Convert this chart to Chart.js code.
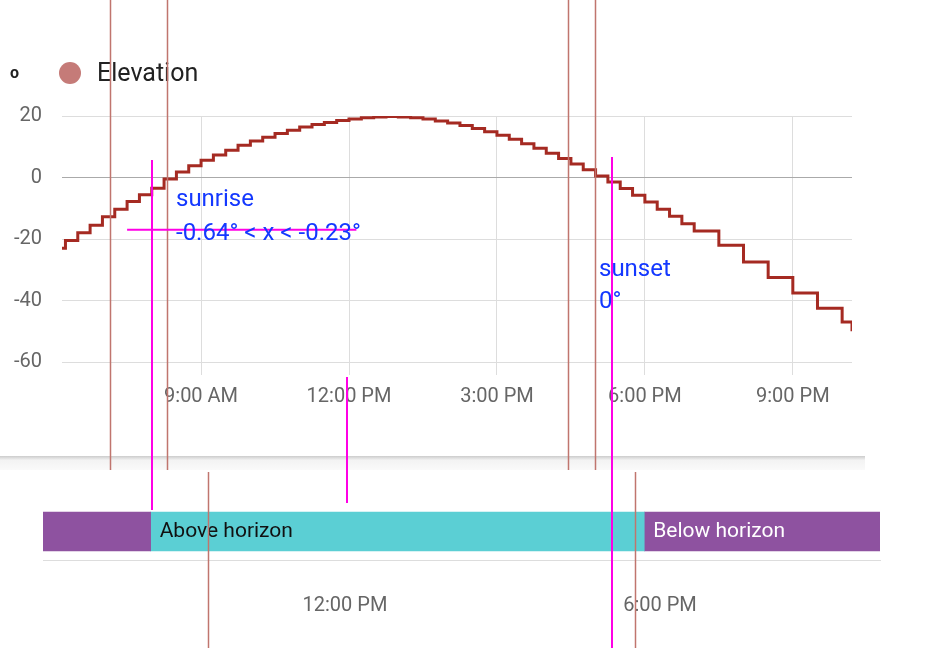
<!DOCTYPE html>
<html><head><meta charset="utf-8">
<script src="https://cdn.jsdelivr.net/npm/chart.js@4/dist/chart.umd.min.js"></script>
<style>
body{margin:0;width:930px;height:648px;background:#fff;overflow:hidden;font-family:Roboto,sans-serif;position:relative}
#top{position:absolute;left:0;top:0}
#bot{position:absolute;left:0;top:470px}
#ov{position:absolute;left:0;top:0;pointer-events:none}
#legend{position:absolute;left:10px;top:58px;font-size:25px;color:#222;display:flex;align-items:center}
#bar{position:absolute;left:0;top:456px;width:865px;height:14px;background:linear-gradient(#ccc,#f3f3f3 30%,#fafafa)}
</style></head><body>
<div id="bar"></div>
<canvas id="top" width="865" height="470"></canvas>
<canvas id="bot" width="930" height="178"></canvas>
<div id="legend"><b style="font-size:16px;margin-right:40px">o</b><span style="width:22px;height:22px;border-radius:50%;background:#c57b78;display:inline-block;margin-right:16px"></span>Elevation</div>
<canvas id="ov" width="930" height="648"></canvas>
<script>
// hours of day (decimal) and sun elevation in degrees
const times = [6.18,6.25,6.5,6.75,7,7.25,7.5,7.75,8,8.25,8.5,8.75,9,9.25,9.5,9.75,10,10.25,10.5,10.75,11,11.25,11.5,11.75,12,12.25,12.5,12.75,13,13.25,13.5,13.75,14,14.25,14.5,14.75,15,15.25,15.5,15.75,16,16.25,16.5,16.75,17,17.25,17.5,17.75,18,18.25,18.5,18.75,19,19.5,20,20.5,21,21.5,22,22.2];
const elevation = [-23,-20.5,-18,-15.5,-12.8,-10.3,-7.8,-5.6,-3.5,-0.5,1.8,3.8,5.6,7.3,8.9,10.5,11.9,13.1,14.3,15.4,16.4,17.2,17.9,18.5,19.0,19.4,19.7,19.8,19.7,19.4,19.0,18.4,17.7,16.9,15.9,14.9,13.7,12.4,11.0,9.5,7.9,6.2,4.4,2.5,0.5,-1.5,-3.6,-5.8,-8.0,-10.3,-12.6,-15,-17.4,-22,-27.5,-32.5,-37.6,-42.5,-47,-50];
const topTicks = [9,12,15,18,21];
const yTicks = [-60,-40,-20,0,20];
// timeline segments
const segStart = [6.25,8.3,17.7];
const segEnd = [8.3,17.7,22.19];
const segLabels = ['','Above horizon','Below horizon'];
const segColors = ['#8e52a0','#5bcfd4','#8e52a0'];
const segText = ['#fff','#111','#fff'];
const botTicks = [12,18];
// annotation lines
const brownTop = [7.15,8.31,16.45,16.98];
const brownBot = [9.39,17.53];
const magentaTop = [8.0,11.95,17.33];

function fmt(h){const hh=Math.floor(h);const m=Math.round((h-hh)*60);const ap=hh>=12?'PM':'AM';let d=hh%12;if(d===0)d=12;return d+':'+String(m).padStart(2,'0')+' '+ap;}
const F='Roboto, sans-serif';

const topChart = new Chart(document.getElementById('top'),{
 type:'line',
 data:{datasets:[{data:times.map((t,i)=>({x:t,y:elevation[i]})),borderColor:'#a52a22',borderWidth:3,stepped:'before',pointRadius:0,fill:false}]},
 options:{responsive:false,animation:false,layout:{padding:{top:116,right:13}},
  plugins:{legend:{display:false},tooltip:{enabled:false}},
  scales:{
   x:{type:'linear',min:6.18,max:22.2,afterBuildTicks:s=>{s.ticks=topTicks.map(v=>({value:v}));},
      ticks:{callback:v=>fmt(v),color:'#666',font:{family:F,size:20},padding:10,maxRotation:0},
      grid:{color:'#ddd',tickLength:13,drawTicks:true},border:{display:false},
      afterFit:s=>{s.height=108;}},
   y:{min:-60,max:20,afterBuildTicks:s=>{s.ticks=yTicks.map(v=>({value:v}));},
      ticks:{color:'#666',font:{family:F,size:20},padding:20},
      grid:{color:c=>c.tick&&c.tick.value===0?'#aaa':'#ddd',drawTicks:false},border:{display:false},
      afterFit:s=>{s.width=62;}}
  }}
});

const botChart = new Chart(document.getElementById('bot'),{
 type:'bar',
 data:{labels:['s'],datasets:segStart.map((s,i)=>({data:[[s,segEnd[i]]],backgroundColor:segColors[i],barThickness:39,grouped:false}))},
 options:{indexAxis:'y',responsive:false,animation:false,layout:{padding:{top:33,left:43,right:50}},
  plugins:{legend:{display:false},tooltip:{enabled:false}},
  scales:{
   x:{type:'linear',min:6.25,max:22.19,afterBuildTicks:s=>{s.ticks=botTicks.map(v=>({value:v}));},
      ticks:{callback:v=>fmt(v),color:'#666',font:{family:F,size:20},padding:26,maxRotation:0},
      grid:{display:false},border:{color:'#ddd'},afterFit:s=>{s.height=88;}},
   y:{display:false}
  }},
 plugins:[{id:'lbl',afterDatasetsDraw(c){const ctx=c.ctx,x=c.scales.x;ctx.save();ctx.font='21px '+F;ctx.textBaseline='middle';
   segStart.forEach((s,i)=>{if(!segLabels[i])return;ctx.fillStyle=segText[i];ctx.fillText(segLabels[i],x.getPixelForValue(s)+9,c.chartArea.top+29);});ctx.restore();}}]
});

const o=document.getElementById('ov').getContext('2d');
const tx=topChart.scales.x, ty=topChart.scales.y, bx=botChart.scales.x;
o.strokeStyle='#c0756e';o.lineWidth=1.5;
brownTop.forEach(h=>{const p=Math.round(tx.getPixelForValue(h))+0.5;o.beginPath();o.moveTo(p,0);o.lineTo(p,470);o.stroke();});
brownBot.forEach(h=>{const p=Math.round(bx.getPixelForValue(h))+0.5;o.beginPath();o.moveTo(p,472);o.lineTo(p,648);o.stroke();});
o.strokeStyle='#ff00e6';o.lineWidth=2;
const mSpans=[[160,510],[377,503],[157,648]];
magentaTop.forEach((h,i)=>{const p=Math.round(tx.getPixelForValue(h));o.beginPath();o.moveTo(p,mSpans[i][0]);o.lineTo(p,mSpans[i][1]);o.stroke();});
const hy=ty.getPixelForValue(-17);
o.beginPath();o.moveTo(tx.getPixelForValue(7.5),hy);o.lineTo(tx.getPixelForValue(12.15),hy);o.stroke();
o.fillStyle='#1438ff';o.font='24px '+F;o.textBaseline='middle';
o.fillText('sunrise',176,200);o.fillText('-0.64° < x < -0.23°',176,234);
o.fillText('sunset',599,270);o.fillText('0°',599,302);
</script></body></html>
